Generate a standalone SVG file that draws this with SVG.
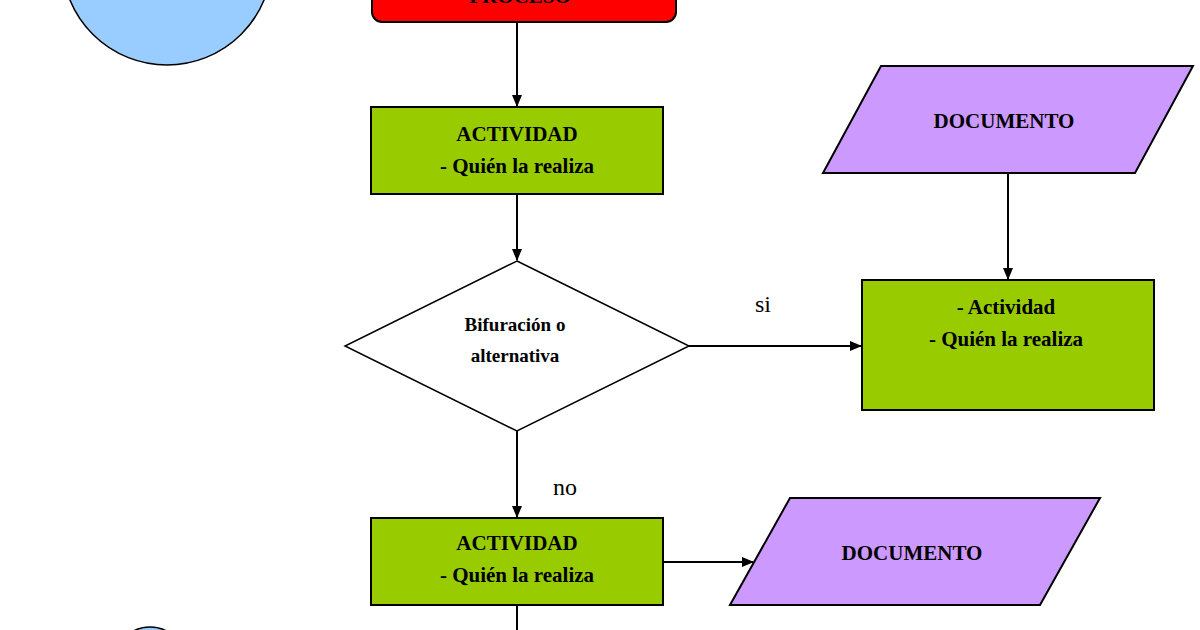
<svg xmlns="http://www.w3.org/2000/svg" width="1200" height="630" viewBox="0 0 1200 630">
<defs>
<marker id="ar" markerWidth="12" markerHeight="10" refX="11" refY="5" orient="auto" markerUnits="userSpaceOnUse"><path d="M0,0 L12,5 L0,10 Z" fill="#000"/></marker>
<style>
.g{fill:#99cc00;stroke:#000;stroke-width:2}
.p{fill:#cc99ff;stroke:#000;stroke-width:2}
.t{font-family:"Liberation Serif",serif;font-weight:bold;font-size:21px;text-anchor:middle;fill:#000}
.l{font-family:"Liberation Serif",serif;font-size:24px;fill:#000}
.c{stroke:#000;stroke-width:2;fill:none;marker-end:url(#ar)}
</style>
</defs>
<rect width="1200" height="630" fill="#fff"/>
<g id="circle1"><circle cx="167" cy="-40" r="105" fill="#99ccff" stroke="#000" stroke-width="1.5"/></g>
<g id="circle2"><circle cx="150" cy="662" r="35" fill="#99ccff" stroke="#000" stroke-width="1.5"/></g>
<g id="proceso"><rect x="372" y="-30" width="304" height="52" rx="10" fill="#ff0000" stroke="#000" stroke-width="2"/><text class="t" x="520" y="3">PROCESO</text></g>
<g id="act1"><rect class="g" x="371" y="107" width="292" height="87"/><text class="t" x="517" y="141">ACTIVIDAD</text><text class="t" x="517" y="173">- Quién la realiza</text></g>
<g id="dec"><polygon points="517,261 689,346 517,431 345,346" fill="#fff" stroke="#000" stroke-width="1.5"/><text class="t" x="515" y="331" style="font-size:19px">Bifuración o</text><text class="t" x="515" y="362" style="font-size:19px">alternativa</text></g>
<g id="doc1"><polygon class="p" points="881,66 1193,66 1135,173 823,173"/><text class="t" x="1004" y="128">DOCUMENTO</text></g>
<g id="act2"><rect class="g" x="862" y="280" width="292" height="130"/><text class="t" x="1006" y="314">- Actividad</text><text class="t" x="1006" y="346">- Quién la realiza</text></g>
<g id="act3"><rect class="g" x="371" y="518" width="292" height="87"/><text class="t" x="517" y="550">ACTIVIDAD</text><text class="t" x="517" y="582">- Quién la realiza</text></g>
<g id="doc2"><polygon class="p" points="790,498 1100,498 1040,605 730,605"/><text class="t" x="912" y="560">DOCUMENTO</text></g>
<g id="connectors">
<line class="c" x1="517" y1="22" x2="517" y2="106"/>
<line class="c" x1="517" y1="194" x2="517" y2="260"/>
<line class="c" x1="689" y1="346" x2="861" y2="346"/>
<line class="c" x1="1008" y1="173" x2="1008" y2="279"/>
<line class="c" x1="517" y1="431" x2="517" y2="517"/>
<line class="c" x1="663" y1="562" x2="753" y2="562"/>
<line x1="517" y1="605" x2="517" y2="630" stroke="#000" stroke-width="2"/>
<text class="l" x="755" y="312">si</text>
<text class="l" x="553" y="495">no</text>
</g>
</svg>
